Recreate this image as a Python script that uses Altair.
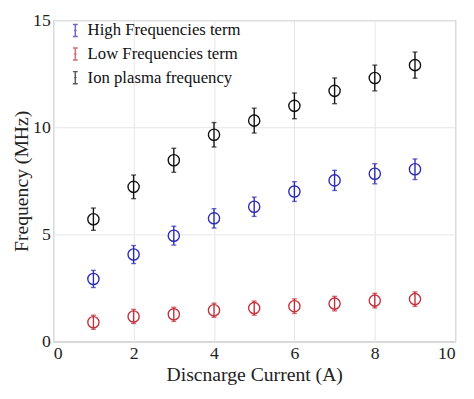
import altair as alt
import pandas as pd

current = [1, 2, 3, 4, 5, 6, 7, 8, 9]
high_vals = [2.92, 4.06, 4.94, 5.75, 6.29, 7.0, 7.52, 7.83, 8.04]
high_err = [0.40, 0.42, 0.44, 0.45, 0.45, 0.46, 0.47, 0.47, 0.48]
low_vals = [0.90, 1.17, 1.27, 1.46, 1.56, 1.65, 1.77, 1.91, 1.98]
low_err = [0.33, 0.33, 0.33, 0.33, 0.33, 0.34, 0.34, 0.34, 0.34]
ion_vals = [5.71, 7.22, 8.46, 9.65, 10.31, 11.0, 11.7, 12.3, 12.9]
ion_err = [0.52, 0.55, 0.56, 0.57, 0.58, 0.60, 0.60, 0.60, 0.61]

series_names = ["High Frequencies term", "Low Frequencies term", "Ion plasma frequency"]
series_colors = ["#2a2ab4", "#c4303c", "#111111"]

rows = []
for name, vals, errs in zip(series_names, [high_vals, low_vals, ion_vals], [high_err, low_err, ion_err]):
    for x, v, e in zip(current, vals, errs):
        rows.append({"I": x, "f": v, "lo": v - e, "hi": v + e, "series": name})
df = pd.DataFrame(rows)

FONT = "Liberation Serif"

color = alt.Color(
    "series:N",
    scale=alt.Scale(domain=series_names, range=series_colors),
    legend=alt.Legend(
        title=None,
        orient="none",
        legendX=14,
        legendY=2,
        symbolType="M0,-1L0,1M-0.4,-1L0.4,-1M-0.4,1L0.4,1M-0.2,0L0.2,0",
        symbolSize=150,
        symbolStrokeWidth=1.5,
        symbolFillColor="transparent",
        labelFont=FONT,
        labelFontSize=17,
        labelColor="#111111",
        rowPadding=5,
        labelOffset=4,
    ),
)

x = alt.X("I:Q", scale=alt.Scale(domain=[0, 10], nice=False),
          axis=alt.Axis(values=[0, 2, 4, 6, 8, 10], title="Discnarge Current (A)",
                        labelFont=FONT, titleFont=FONT))
y = alt.Y("f:Q", scale=alt.Scale(domain=[0, 15], nice=False),
          axis=alt.Axis(values=[0, 5, 10, 15], title="Frequency (MHz)",
                        labelFont=FONT, titleFont=FONT))

bars = alt.Chart(df).mark_errorbar(ticks={"size": 5}, thickness=1.4).encode(
    x=x,
    y=alt.Y("lo:Q", scale=alt.Scale(domain=[0, 15], nice=False),
            axis=alt.Axis(values=[0, 5, 10, 15], title="Frequency (MHz)",
                          labelFont=FONT, titleFont=FONT)),
    y2="hi:Q",
    color=color,
)

pts = alt.Chart(df).mark_point(filled=False, size=130, strokeWidth=1.4, opacity=1).encode(
    x=x, y=y, color=color,
)

chart = (
    alt.layer(bars, pts)
    .properties(width=409, height=327, autosize=alt.AutoSizeParams(type="none"),
                padding={"left": 46, "top": 9, "right": 11, "bottom": 48})
    .configure_view(stroke="#9a9a9a", strokeWidth=1)
    .configure_axis(
        grid=True,
        gridColor="#e6e6e6",
        domain=False,
        ticks=False,
        labelFont=FONT,
        labelFontSize=18,
        labelColor="#222222",
        labelPadding=3,
        titleFont=FONT,
        titleFontSize=20,
        titleFontWeight="normal",
        titleColor="#222222",
        titlePadding=1,
    )
    .configure_axisX(labelPadding=3, titlePadding=3)
)

chart.save("out.html", embed_options={"renderer": "svg", "actions": False})
